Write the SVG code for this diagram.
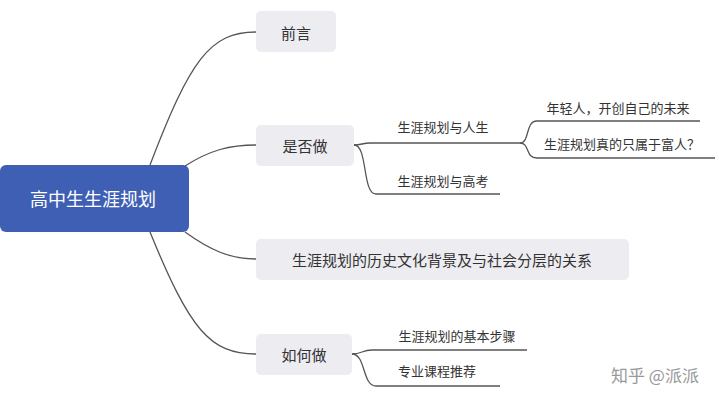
<svg xmlns="http://www.w3.org/2000/svg" width="719" height="405" viewBox="0 0 719 405">
<style>
text{font-family:"Noto Sans CJK SC","Noto Sans",sans-serif;fill:#333}
.n{fill:#ececf1}
.t1{font-size:15px;text-anchor:middle;dominant-baseline:central}
.t2{font-size:13px;text-anchor:middle}
.c{fill:none;stroke:#555;stroke-width:1.3}
</style>
<rect width="719" height="405" fill="#fff"/>
<g id="connectors">
<path class="c" d="M150,165 C190,60 210,32 256,32"/>
<path class="c" d="M185,166 C210,150 230,145 256,145"/>
<path class="c" d="M185,232 C210,250 230,259 256,259"/>
<path class="c" d="M150,232 C190,330 210,354 256,354"/>
<path class="c" d="M354,145 C362,145 362,143 370,143 L520,143"/>
<path class="c" d="M354,145 C368,145 362,194 376,194 L500,194"/>
<path class="c" d="M520,143 C530,143 525,121 537,121 L700,121"/>
<path class="c" d="M520,143 C530,143 525,158 537,158 L715,158"/>
<path class="c" d="M352,354 C362,354 362,350 372,350 L527,350"/>
<path class="c" d="M352,354 C366,354 362,386 376,386 L500,386"/>
</g>
<g id="root"><rect x="0" y="165" width="189" height="67" rx="6" fill="#3f5fb5"/><text class="t1" x="93" y="198" style="fill:#fff;font-size:18px">高中生生涯规划</text></g>
<g id="n1"><rect class="n" x="256" y="11" width="80" height="41" rx="5"/><text class="t1" x="296" y="32">前言</text></g>
<g id="n2"><rect class="n" x="256" y="125" width="98" height="41" rx="5"/><text class="t1" x="305" y="145">是否做</text></g>
<g id="n3"><rect class="n" x="256" y="239" width="373" height="41" rx="5"/><text class="t1" x="442" y="259">生涯规划的历史文化背景及与社会分层的关系</text></g>
<g id="n4"><rect class="n" x="256" y="334" width="96" height="41" rx="5"/><text class="t1" x="304" y="354">如何做</text></g>
<g id="s1"><text class="t2" x="443" y="132">生涯规划与人生</text></g>
<g id="s2"><text class="t2" x="618" y="113">年轻人，开创自己的未来</text></g>
<g id="s3"><text class="t2" x="622" y="149">生涯规划真的只属于富人？</text></g>
<g id="s4"><text class="t2" x="443" y="186">生涯规划与高考</text></g>
<g id="s5"><text class="t2" x="457" y="341">生涯规划的基本步骤</text></g>
<g id="s6"><text class="t2" x="437" y="376">专业课程推荐</text></g>
<text x="655" y="382" style="font-size:17px;fill:#999;text-anchor:middle">知乎 @派派</text>
</svg>
